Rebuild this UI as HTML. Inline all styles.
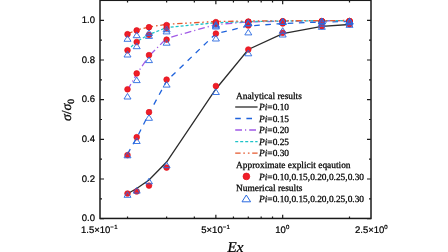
<!DOCTYPE html>
<html><head><meta charset="utf-8"><style>
html,body{margin:0;padding:0;background:#fff;width:448px;height:252px;overflow:hidden}
svg{display:block}
</style></head><body>
<svg width="448" height="252" viewBox="0 0 448 252" text-rendering="geometricPrecision">
<rect width="448" height="252" fill="#fff"/>
<polyline points="127.50,193.80 136.70,188.50 149.00,180.00 166.60,162.00 215.90,89.00 248.30,49.50 282.70,33.70 321.80,26.30 349.50,24.50" fill="none" stroke="#2b2b2b" stroke-width="1.3"/>
<polyline points="127.50,154.00 136.70,138.00 149.00,113.50 166.60,81.00 215.90,33.60 248.30,26.00 282.70,23.50 321.80,22.00 349.50,21.50" fill="none" stroke="#1e62dc" stroke-width="1.3" stroke-dasharray="5.6 5.6"/>
<polyline points="127.50,90.00 136.70,74.00 149.00,56.00 166.60,38.40 215.90,24.50 248.30,22.00 282.70,21.20 321.80,20.80 349.50,20.60" fill="none" stroke="#a05ae6" stroke-width="1.3" stroke-dasharray="6.8 3 1.2 3"/>
<polyline points="127.50,50.50 136.70,41.50 149.00,34.50 166.60,27.60 215.90,22.70 248.30,21.60 282.70,21.00 321.80,20.70 349.50,20.60" fill="none" stroke="#1ec3c8" stroke-width="1.3" stroke-dasharray="3 2"/>
<polyline points="127.50,33.80 136.70,30.00 149.00,27.00 166.60,24.30 215.90,21.50 248.30,21.00 282.70,20.80 321.80,20.60 349.50,20.50" fill="none" stroke="#e5592e" stroke-width="1.3" stroke-dasharray="5.4 2.7 1.6 3 1.6 2.7"/>
<g fill="#f01e28" stroke="#dc0a14" stroke-width="0.6">
<circle cx="127.50" cy="193.50" r="2.85"/>
<circle cx="136.70" cy="191.40" r="2.85"/>
<circle cx="149.00" cy="185.60" r="2.85"/>
<circle cx="166.60" cy="167.60" r="2.85"/>
<circle cx="215.90" cy="86.00" r="2.85"/>
<circle cx="248.30" cy="49.50" r="2.85"/>
<circle cx="282.70" cy="32.80" r="2.85"/>
<circle cx="321.80" cy="26.20" r="2.85"/>
<circle cx="349.50" cy="24.20" r="2.85"/>
<circle cx="127.50" cy="155.10" r="2.85"/>
<circle cx="136.70" cy="137.20" r="2.85"/>
<circle cx="149.00" cy="112.20" r="2.85"/>
<circle cx="166.60" cy="79.60" r="2.85"/>
<circle cx="215.90" cy="33.60" r="2.85"/>
<circle cx="248.30" cy="25.50" r="2.85"/>
<circle cx="282.70" cy="23.40" r="2.85"/>
<circle cx="321.80" cy="21.90" r="2.85"/>
<circle cx="349.50" cy="21.50" r="2.85"/>
<circle cx="127.50" cy="89.30" r="2.85"/>
<circle cx="136.70" cy="73.40" r="2.85"/>
<circle cx="149.00" cy="55.10" r="2.85"/>
<circle cx="166.60" cy="39.60" r="2.85"/>
<circle cx="215.90" cy="24.10" r="2.85"/>
<circle cx="248.30" cy="22.10" r="2.85"/>
<circle cx="282.70" cy="21.60" r="2.85"/>
<circle cx="321.80" cy="21.40" r="2.85"/>
<circle cx="349.50" cy="21.10" r="2.85"/>
<circle cx="127.50" cy="50.30" r="2.85"/>
<circle cx="136.70" cy="42.00" r="2.85"/>
<circle cx="149.00" cy="34.80" r="2.85"/>
<circle cx="166.60" cy="28.10" r="2.85"/>
<circle cx="215.90" cy="23.10" r="2.85"/>
<circle cx="248.30" cy="21.90" r="2.85"/>
<circle cx="282.70" cy="21.40" r="2.85"/>
<circle cx="321.80" cy="21.20" r="2.85"/>
<circle cx="349.50" cy="21.10" r="2.85"/>
<circle cx="127.50" cy="34.20" r="2.85"/>
<circle cx="136.70" cy="30.40" r="2.85"/>
<circle cx="149.00" cy="27.20" r="2.85"/>
<circle cx="166.60" cy="25.10" r="2.85"/>
<circle cx="215.90" cy="22.10" r="2.85"/>
<circle cx="248.30" cy="21.60" r="2.85"/>
<circle cx="282.70" cy="21.30" r="2.85"/>
<circle cx="321.80" cy="21.10" r="2.85"/>
<circle cx="349.50" cy="21.10" r="2.85"/>
</g>
<g fill="none" stroke="#2a6ae0" stroke-width="0.9" stroke-linejoin="miter">
<path d="M127.50 191.70L131.00 197.30L124.00 197.30Z"/>
<path d="M136.70 187.50L140.20 193.10L133.20 193.10Z"/>
<path d="M149.00 178.20L152.50 183.80L145.50 183.80Z"/>
<path d="M166.60 162.10L170.10 167.70L163.10 167.70Z"/>
<path d="M215.90 88.90L219.40 94.50L212.40 94.50Z"/>
<path d="M248.30 50.20L251.80 55.80L244.80 55.80Z"/>
<path d="M282.70 31.40L286.20 37.00L279.20 37.00Z"/>
<path d="M321.80 23.70L325.30 29.30L318.30 29.30Z"/>
<path d="M349.50 21.70L353.00 27.30L346.00 27.30Z"/>
<path d="M127.50 152.20L131.00 157.80L124.00 157.80Z"/>
<path d="M136.70 137.90L140.20 143.50L133.20 143.50Z"/>
<path d="M149.00 114.70L152.50 120.30L145.50 120.30Z"/>
<path d="M166.60 81.50L170.10 87.10L163.10 87.10Z"/>
<path d="M215.90 35.40L219.40 41.00L212.40 41.00Z"/>
<path d="M248.30 29.30L251.80 34.90L244.80 34.90Z"/>
<path d="M282.70 27.70L286.20 33.30L279.20 33.30Z"/>
<path d="M321.80 20.70L325.30 26.30L318.30 26.30Z"/>
<path d="M349.50 19.20L353.00 24.80L346.00 24.80Z"/>
<path d="M127.50 93.40L131.00 99.00L124.00 99.00Z"/>
<path d="M136.70 77.00L140.20 82.60L133.20 82.60Z"/>
<path d="M149.00 57.00L152.50 62.60L145.50 62.60Z"/>
<path d="M166.60 39.60L170.10 45.20L163.10 45.20Z"/>
<path d="M215.90 23.40L219.40 29.00L212.40 29.00Z"/>
<path d="M248.30 20.20L251.80 25.80L244.80 25.80Z"/>
<path d="M282.70 18.70L286.20 24.30L279.20 24.30Z"/>
<path d="M321.80 18.20L325.30 23.80L318.30 23.80Z"/>
<path d="M349.50 18.20L353.00 23.80L346.00 23.80Z"/>
<path d="M127.50 51.40L131.00 57.00L124.00 57.00Z"/>
<path d="M136.70 43.10L140.20 48.70L133.20 48.70Z"/>
<path d="M149.00 32.80L152.50 38.40L145.50 38.40Z"/>
<path d="M166.60 28.30L170.10 33.90L163.10 33.90Z"/>
<path d="M215.90 22.40L219.40 28.00L212.40 28.00Z"/>
<path d="M248.30 20.20L251.80 25.80L244.80 25.80Z"/>
<path d="M282.70 18.70L286.20 24.30L279.20 24.30Z"/>
<path d="M321.80 18.20L325.30 23.80L318.30 23.80Z"/>
<path d="M349.50 18.20L353.00 23.80L346.00 23.80Z"/>
<path d="M127.50 35.70L131.00 41.30L124.00 41.30Z"/>
<path d="M136.70 32.10L140.20 37.70L133.20 37.70Z"/>
<path d="M149.00 29.90L152.50 35.50L145.50 35.50Z"/>
<path d="M166.60 26.10L170.10 31.70L163.10 31.70Z"/>
<path d="M215.90 21.40L219.40 27.00L212.40 27.00Z"/>
<path d="M248.30 19.70L251.80 25.30L244.80 25.30Z"/>
<path d="M282.70 18.70L286.20 24.30L279.20 24.30Z"/>
<path d="M321.80 18.20L325.30 23.80L318.30 23.80Z"/>
<path d="M349.50 18.20L353.00 23.80L346.00 23.80Z"/>
</g>
<rect x="100.0" y="0.3" width="271.0" height="218.14999999999998" fill="none" stroke="#1a1a1a" stroke-width="1.5"/>
<path d="M100.0 218.70h4M371.0 218.70h-4M100.0 198.86h2M371.0 198.86h-2M100.0 179.02h4M371.0 179.02h-4M100.0 159.18h2M371.0 159.18h-2M100.0 139.34h4M371.0 139.34h-4M100.0 119.50h2M371.0 119.50h-2M100.0 99.66h4M371.0 99.66h-4M100.0 79.82h2M371.0 79.82h-2M100.0 59.98h4M371.0 59.98h-4M100.0 40.14h2M371.0 40.14h-2M100.0 20.30h4M371.0 20.30h-4M215.86 218.7v-4M215.86 0.3v4M282.68 218.7v-4M282.68 0.3v4M127.53 218.7v-2.2M127.53 0.3v2.2M166.62 218.7v-2.2M166.62 0.3v2.2M194.35 218.7v-2.2M194.35 0.3v2.2M233.44 218.7v-2.2M233.44 0.3v2.2M248.30 218.7v-2.2M248.30 0.3v2.2M261.17 218.7v-2.2M261.17 0.3v2.2M272.53 218.7v-2.2M272.53 0.3v2.2M349.50 218.7v-2.2M349.50 0.3v2.2" stroke="#1a1a1a" stroke-width="1.2" fill="none"/>
<g font-family="Liberation Sans, Arial, sans-serif" font-size="9.5" fill="#000" stroke="#000" stroke-width="0.22" text-anchor="end">
<text x="95" y="221.30">0.0</text>
<text x="95" y="181.62">0.2</text>
<text x="95" y="141.94">0.4</text>
<text x="95" y="102.26">0.6</text>
<text x="95" y="62.58">0.8</text>
<text x="95" y="22.90">1.0</text>
</g>
<g font-family="Liberation Sans, Arial, sans-serif" font-size="9.5" fill="#000" stroke="#000" stroke-width="0.22" text-anchor="middle">
<text x="99.50" y="232.5">1.5×10<tspan font-size="6" dy="-3.7" letter-spacing="0.4">−1</tspan></text>
<text x="215.80" y="232.5">5×10<tspan font-size="6" dy="-3.7" letter-spacing="0.4">−1</tspan></text>
<text x="282.50" y="232.5">10<tspan font-size="6" dy="-3.7" letter-spacing="0.4">0</tspan></text>
<text x="371.50" y="232.5">2.5×10<tspan font-size="6" dy="-3.7" letter-spacing="0.4">0</tspan></text>
</g>
<text x="235.5" y="252" font-family="Liberation Serif, Times New Roman, serif" font-style="italic" font-size="15" text-anchor="middle" fill="#000" stroke="#000" stroke-width="0.3">Ex</text>
<text transform="translate(70.6 110) rotate(-90)" font-family="Liberation Serif, Times New Roman, serif" font-size="13.7" text-anchor="middle" fill="#000" stroke="#000" stroke-width="0.3"><tspan font-style="italic">σ</tspan>/<tspan font-style="italic">σ</tspan><tspan font-size="9.5" dy="3.6">0</tspan></text>
<g font-family="Liberation Serif, Times New Roman, serif" font-size="9.4" fill="#000" stroke="#000" stroke-width="0.25">
<text x="236" y="98.5">Analytical results</text>
<line x1="235.2" y1="107.0" x2="257.6" y2="107.0" stroke="#2b2b2b" stroke-width="1.3"/>
<text x="259" y="110.2"><tspan font-style="italic">Pi</tspan>=0.10</text>
<line x1="235.2" y1="118.5" x2="257.6" y2="118.5" stroke="#1e62dc" stroke-width="1.3" stroke-dasharray="5.6 5.6"/>
<text x="259" y="121.7"><tspan font-style="italic">Pi</tspan>=0.15</text>
<line x1="235.2" y1="130.0" x2="257.6" y2="130.0" stroke="#a05ae6" stroke-width="1.3" stroke-dasharray="6.8 3 1.2 3"/>
<text x="259" y="133.2"><tspan font-style="italic">Pi</tspan>=0.20</text>
<line x1="235.2" y1="141.6" x2="257.6" y2="141.6" stroke="#1ec3c8" stroke-width="1.3" stroke-dasharray="3 2"/>
<text x="259" y="144.8"><tspan font-style="italic">Pi</tspan>=0.25</text>
<line x1="235.2" y1="153.1" x2="257.6" y2="153.1" stroke="#e5592e" stroke-width="1.3" stroke-dasharray="5.4 2.7 1.6 3 1.6 2.7"/>
<text x="259" y="156.3"><tspan font-style="italic">Pi</tspan>=0.30</text>
<text x="236" y="168">Approximate explicit eqaution</text>
<circle cx="246.4" cy="176.4" r="3.4" fill="#f01e28" stroke="#dc0a14" stroke-width="0.6"/>
<text x="259" y="179.6"><tspan font-style="italic">Pi</tspan>=0.10,0.15,0.20,0.25,0.30</text>
<text x="236" y="190.8">Numerical results</text>
<path d="M246.3 195L250.6 201.8L242 201.8Z" fill="none" stroke="#2a6ae0" stroke-width="1"/>
<text x="259" y="202"><tspan font-style="italic">Pi</tspan>=0.10,0.15,0.20,0.25,0.30</text>
</g>
</svg>
</body></html>
